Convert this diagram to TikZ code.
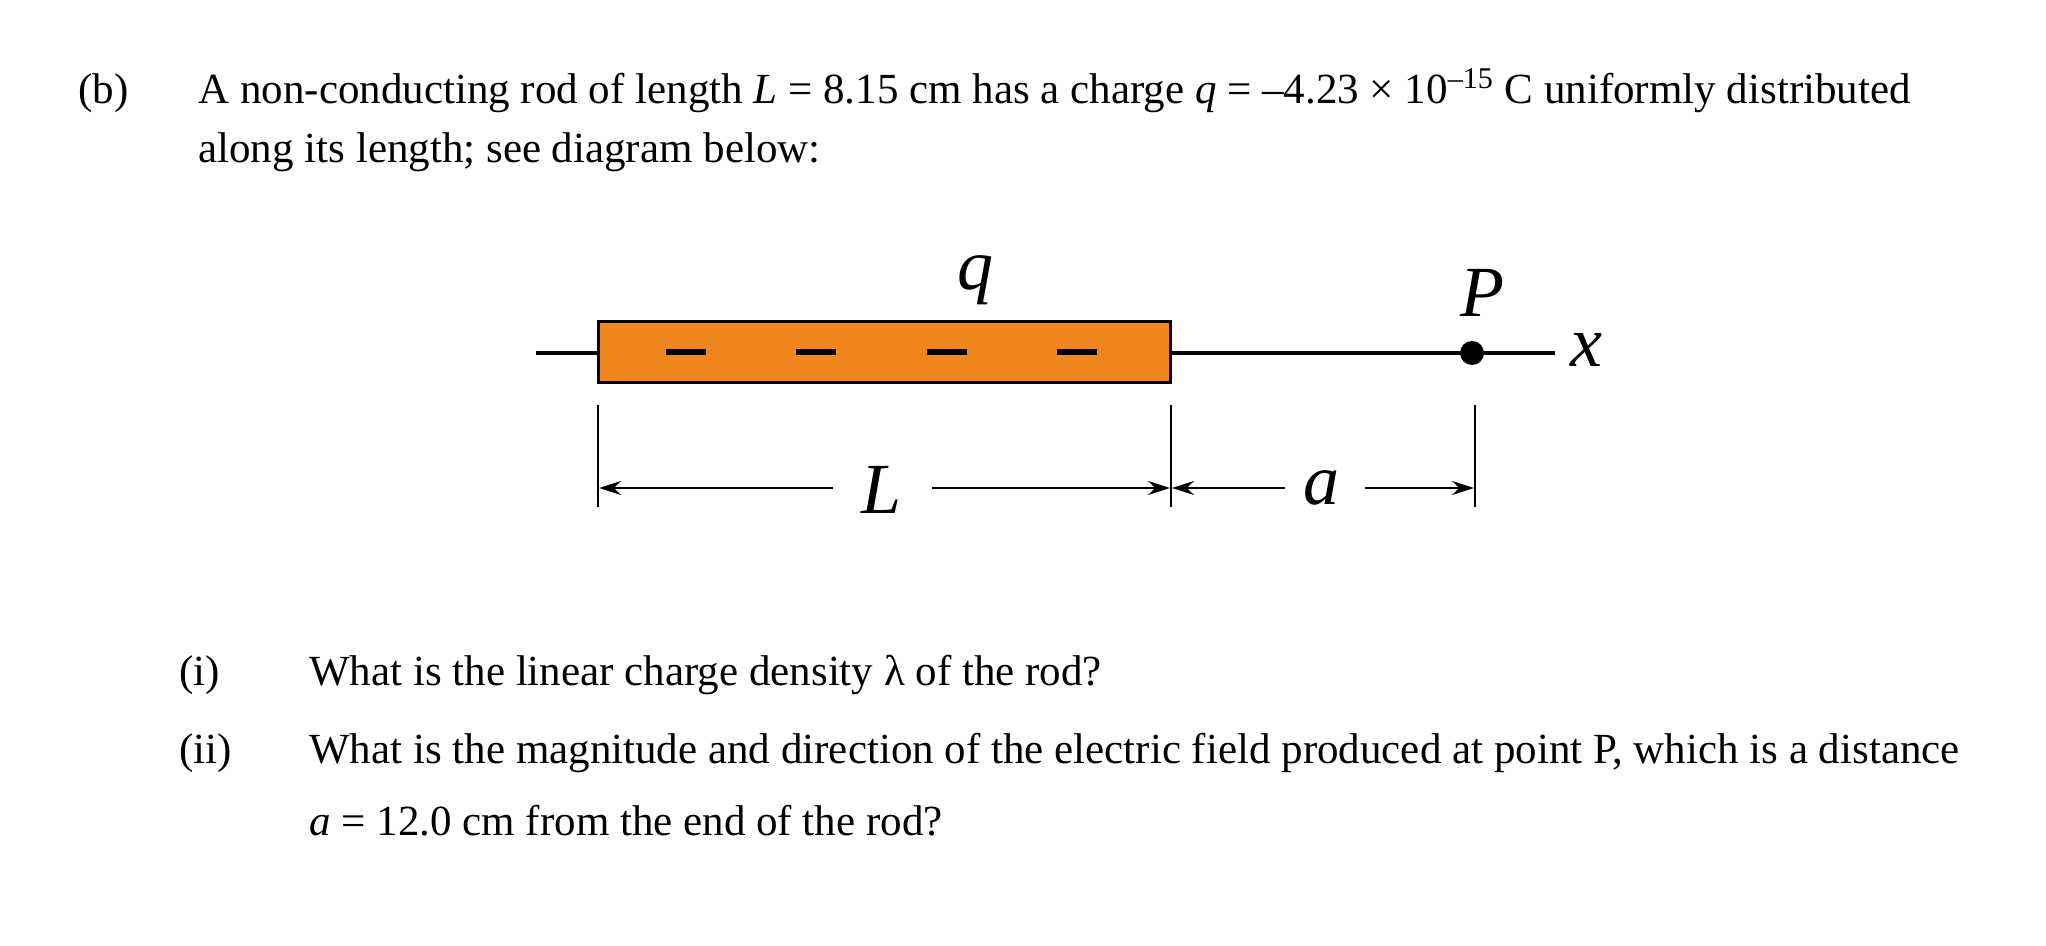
\documentclass[tikz,border=0pt]{standalone}
\usepackage{fontspec}
\setmainfont{Liberation Serif}
\usetikzlibrary{arrows.meta}
\definecolor{rodorange}{RGB}{240,135,30}
\begin{document}
\begin{tikzpicture}[x=0.5pt,y=-0.5pt,
  txt/.style={anchor=base west,inner sep=0pt,font=\fontsize{21.5}{26}\selectfont},
  lbl/.style={inner sep=0pt,font=\fontsize{36}{40}\selectfont\itshape},
  dim/.style={line width=0.7pt,-{Stealth[length=11pt,width=7pt]}},
  tick/.style={line width=0.6pt}]
\useasboundingbox (0,0) rectangle (2046,946);
% text
\node[txt] (b) at (78,104) {(b)};
\node[txt] (t1) at (198,104) {A non-conducting rod of length \textit{L} = 8.15 cm has a charge \textit{q} = –4.23 × 10\textsuperscript{–15} C uniformly distributed};
\node[txt] (t2) at (198,163) {along its length; see diagram below:};
\node[txt] (i) at (179,685) {(i)};
\node[txt] (ti) at (309,685) {What is the linear charge density λ of the rod?};
\node[txt] (ii) at (179,763) {(ii)};
\node[txt] (tii) at (309,763) {What is the magnitude and direction of the electric field produced at point P, which is a distance};
\node[txt] (tiii) at (309,835) {\textit{a} = 12.0 cm from the end of the rod?};
% axis
\coordinate (axl) at (536,353);
\coordinate (axr) at (1555,353);
\draw[line width=2.2pt] (axl) -- (axr);
\node[draw=black,fill=rodorange,line width=1.5pt,minimum width=286pt,minimum height=30.5pt,inner sep=0pt] (rod) at (884.5,352) {};
\foreach \mx in {686,816,947,1077} \draw[line width=2.8pt] (\mx-20,352) -- (\mx+20,352);
\node[circle,fill=black,minimum width=12pt,inner sep=0pt] (P) at (1472,353) {};
\node[lbl] (Plbl) at (1482,293) {P};
\node[lbl] (qlbl) at (975,280) {q};
\node[lbl,anchor=west] (xlbl) at (1570,350) {x};
% dimension
\coordinate (t1a) at (598,405); \coordinate (t1b) at (598,507);
\coordinate (t2a) at (1171,405); \coordinate (t2b) at (1171,507);
\coordinate (t3a) at (1475,405); \coordinate (t3b) at (1475,507);
\draw[tick] (t1a) -- (t1b);
\draw[tick] (t2a) -- (t2b);
\draw[tick] (t3a) -- (t3b);
\node[lbl] (L) at (882,490) {L};
\node[lbl] (a) at (1321,488) {a};
\draw[dim] (833,488) -- (599,488);
\draw[dim] (932,488) -- (1170,488);
\draw[dim] (1285,488) -- (1172,488);
\draw[dim] (1365,488) -- (1474,488);
\end{tikzpicture}
\end{document}
